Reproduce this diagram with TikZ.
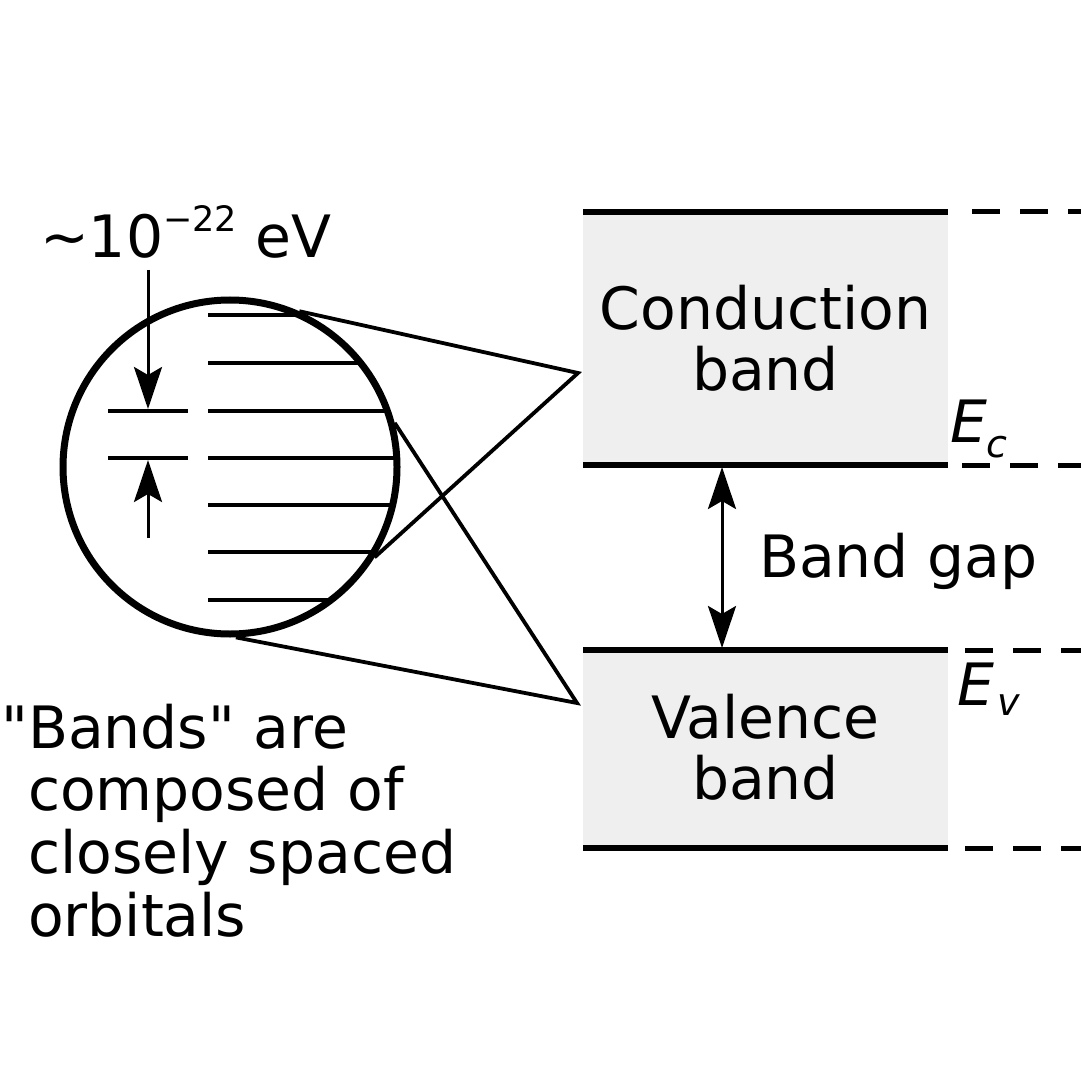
\documentclass[tikz,border=0pt]{standalone}
\usepackage{fontspec}
\setmainfont{DejaVu Sans}[Ligatures=TeXOff]
\usetikzlibrary{arrows.meta}
\definecolor{bandgray}{RGB}{239,239,239}
\newcommand{\lblfont}{\fontsize{29.2}{30.5}\selectfont}
\newcommand{\subfont}{\fontsize{19}{19}\selectfont}
\newcommand{\sq}{{\char"22}}
\begin{document}
\begin{tikzpicture}[x=0.5pt,y=-0.5pt,
  lbl/.style={font=\lblfont, inner sep=0pt, outer sep=0pt},
  bandbox/.style={fill=bandgray, inner sep=0pt, outer sep=0pt, minimum width=182.5pt, font=\lblfont, align=center},
  bandline/.style={line width=3pt},
  dashline/.style={line width=2.5pt, dash pattern=on 14pt off 10pt},
  zoomline/.style={line width=1.9pt},
  arrowtip/.style={line width=1.5pt},
  arr/.style={arrowtip, -{Stealth[length=21pt,width=14pt,inset=4pt]}},
  dblarr/.style={arrowtip, {Stealth[length=21pt,width=14pt,inset=4pt]}-{Stealth[length=21pt,width=14pt,inset=4pt]}},
  orb/.style={line width=2pt},
]
\useasboundingbox[fill=white] (0,0) rectangle (1080,1080);

% bands
\node[bandbox, minimum height=126.5pt] (cb) at (765.5,338.5) {Conduction\\band};
\node[bandbox, minimum height=99pt] (vb) at (765.5,747) {Valence\\band};

\draw[bandline] (cb.north west) -- (cb.north east);
\draw[bandline] (cb.south west) -- (cb.south east);
\draw[bandline] (583,650) -- (948,650);
\draw[bandline] (583,848) -- (948,848);

\coordinate (d1) at (1085,212);
\coordinate (d2) at (1085,465);
\coordinate (d3) at (1085,650);
\coordinate (d4) at (1085,848);
\coordinate (e1) at (972,212);
\coordinate (e2) at (962,465);
\coordinate (e3) at (965,650);
\coordinate (e4) at (965,848);
\draw[dashline] (e1) -- (d1);
\draw[dashline] (e2) -- (d2);
\draw[dashline] (e3) -- (d3);
\draw[dashline] (e4) -- (d4);

% band gap
\coordinate (g1) at (722,467);
\coordinate (g2) at (722,648);
\draw[dblarr] (g1) -- (g2);
\node[lbl, anchor=base west] (gap) at (759,577) {Band gap};

\node[lbl, anchor=base west] (ec) at (950,442) {\itshape E\raisebox{-7.5pt}{\subfont c}};
\node[lbl, anchor=base west] (ev) at (957,705) {\itshape E\kern2pt\raisebox{-5pt}{\subfont v}};

% magnifier circle
\coordinate (C) at (230,467);
\node[circle, draw, line width=3.5pt, fill=white, minimum size=167pt, inner sep=0pt] (circ) at (C) {};
\begin{scope}
  \clip (C) circle[radius=82.6pt];
  \foreach \yy in {315,363,411,458,505,552,600}
    \draw[orb] (208,\yy) -- (420,\yy);
\end{scope}
\draw[orb] (108,411) -- (188,411);
\draw[orb] (108,458) -- (188,458);

% zoom lines
\coordinate (A) at (578,373);
\coordinate (B) at (577,703);
\draw[zoomline, line join=miter] (circ.66) -- (A) -- (circ.-32);
\draw[zoomline, line join=miter] (circ.15) -- (B) -- (circ.-88);

% spacing arrows
\coordinate (t1) at (148,270);
\coordinate (t2) at (148,409);
\coordinate (u1) at (148,538);
\coordinate (u2) at (148,460);
\draw[arr] (t1) -- (t2);
\draw[arr] (u1) -- (u2);

\node[lbl, anchor=base west] (ev22) at (40,258) {{\char"7E}10\raisebox{13pt}{\fontsize{17.5}{17.5}\selectfont −22} eV};

\node[lbl, anchor=base west] (note) at (28,748) {\begin{tabular}[t]{@{}l@{}}\llap{\sq}Bands\sq{} are\\composed of\\closely spaced\\orbitals\end{tabular}};
\end{tikzpicture}
\end{document}
